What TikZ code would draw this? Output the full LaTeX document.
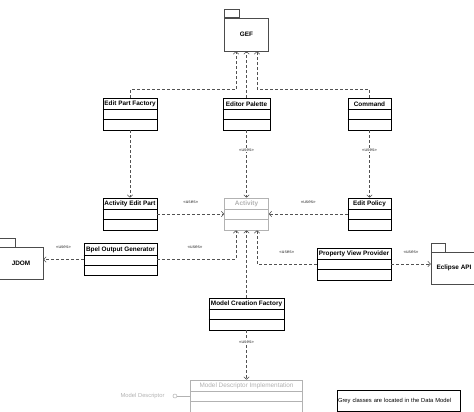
\documentclass[tikz,border=0pt]{standalone}
\usepackage{fontspec}
\setmainfont{Liberation Sans}
\usetikzlibrary{arrows.meta,calc}
\definecolor{dmgrey}{gray}{0.70}
\definecolor{lnk}{gray}{0.32}
\tikzset {>={Straight Barb[length=2.5pt,width=5.5pt]},
  clsbox/.style={draw, line width=0.6pt, minimum height=32pt, inner sep=0pt, fill=white},
  clstitle/.style={font=\fontsize{6.4}{7}\selectfont\bfseries, inner sep=0pt},
  pkg/.style={draw=black!70, line width=0.5pt, fill=white, inner sep=0pt,
    font=\fontsize{6.4}{7}\selectfont\bfseries},
  uses/.style={draw=lnk, dash pattern=on 3pt off 2pt, line width=0.6pt, ->},
  stereo/.style={font=\fontsize{4.6}{5}\selectfont, inner sep=0.5pt, text=black!80}}

% class box: colour, name, centre x, top y, width, title
\newcommand{\umlcls}[6][black]{%
  \node[clsbox, draw=#1, minimum width=#5pt] (#2) at (#3,#4+16) {};
  \node[clstitle, text=#1] at (#3,#4+6) {#6};
  \draw[#1, line width=0.6pt] ([yshift=-12pt]#2.north west) -- ([yshift=-12pt]#2.north east)
    ([yshift=-22pt]#2.north west) -- ([yshift=-22pt]#2.north east);
}

\begin{document}
\begin{tikzpicture}[x=1pt,y=-1pt]
\useasboundingbox (0,0) rectangle (474,412);

% packages
\node[pkg, minimum width=44pt, minimum height=33pt] (gef) at (246.5,34.5) {GEF};
\draw[black!70, line width=0.5pt] (gef.north west) rectangle ++(15,-8);
\node[pkg, minimum width=44pt, minimum height=32pt] (jdom) at (21,263) {JDOM};
\draw[black!70, line width=0.5pt] (jdom.north west) rectangle ++(16,-9);
\node[pkg, minimum width=46pt, minimum height=32pt] (ecl) at (454,268) {Eclipse API};
\draw[black!70, line width=0.5pt] (ecl.north west) rectangle ++(14,-9);

% classes
\umlcls{epf}{130}{98}{54}{Edit Part Factory}
\umlcls{edp}{246.5}{98}{47}{Editor Palette}
\umlcls{cmd}{369.5}{98}{43}{Command}
\umlcls{aep}{130}{198}{54}{Activity Edit Part}
\umlcls[dmgrey]{act}{246.5}{198}{44}{Activity}
\umlcls{pol}{369.5}{198}{43}{Edit Policy}
\umlcls{bpel}{120.5}{243.5}{73}{Bpel Output Generator}
\umlcls{pvp}{354}{248}{74}{Property View Provider}
\umlcls{mcf}{246.5}{298}{75}{Model Creation Factory}
\umlcls[dmgrey]{mdi}{246.5}{380}{112}{\mdseries Model Descriptor Implementation}

% interface
\draw[dmgrey, line width=0.5pt] (mdi.west) -- ++(-13,0)
  node[circle, draw, inner sep=0pt, minimum size=4pt, anchor=east] (mdiif) {};
\node[font=\fontsize{5.8}{7}\selectfont, text=dmgrey, anchor=east, inner sep=0pt]
  at ([xshift=-8pt]mdiif.west) {Model Descriptor};

% dependencies
\draw[uses] (epf.north) -- ++(0,-8) -| ([xshift=-10.5pt]gef.south);
\draw[uses] (edp.north) -- (gef.south);
\draw[uses] (cmd.north) -- ++(0,-8) -| ([xshift=10.5pt]gef.south);
\draw[uses] (epf.south) -- (aep.north);
\draw[uses] (edp.south) -- node[stereo, fill=white, pos=0.3] {«uses»} (act.north);
\draw[uses] (cmd.south) -- node[stereo, fill=white, pos=0.3] {«uses»} (pol.north);
\draw[uses] (aep.east) -- node[stereo, above=10pt] {«uses»} (act.west);
\draw[uses] (pol.west) -- node[stereo, above=10pt] {«uses»} (act.east);
\draw[uses] (bpel.west) -- node[stereo, above=10pt] {«uses»} (bpel.west -| jdom.east);
\draw[uses] (bpel.east) -| node[stereo, above=10pt, pos=0.24] {«uses»} ([xshift=-10.5pt]act.south);
\draw[uses] (pvp.west) -| node[stereo, above=10pt, pos=0.25] {«uses»} ([xshift=10.5pt]act.south);
\draw[uses] (pvp.east) -- node[stereo, above=10pt] {«uses»} (pvp.east -| ecl.west);
\draw[uses] (mcf.north) -- (act.south);
\draw[uses] (mcf.south) -- node[stereo, fill=white, pos=0.24] {«uses»} (mdi.north);

% note
\node[draw, line width=0.5pt, minimum width=123pt, minimum height=21pt, text width=121pt,
  inner sep=1pt, align=left, font=\fontsize{5.8}{7}\selectfont] (note) at (398.5,400.5)
  {Grey classes are located in the Data Model};
\draw[line width=1.2pt] (note.south west) -- (note.south east);
\end{tikzpicture}
\end{document}
